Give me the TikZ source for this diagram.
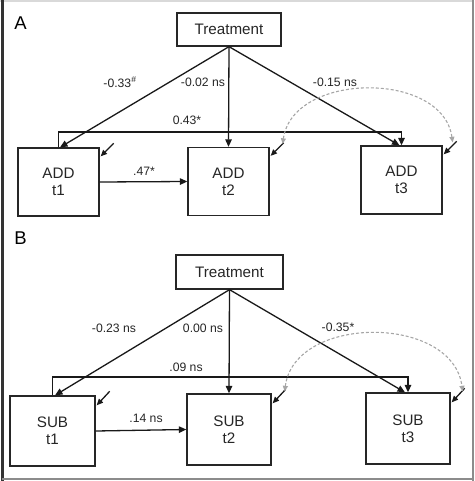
\documentclass[tikz,border=0pt]{standalone}
\usepackage{fontspec}
\setmainfont{Liberation Sans}
\usetikzlibrary{arrows.meta}
\begin{document}
\begin{tikzpicture}[x=1pt,y=-1pt,
  box/.style={draw=black!85, line width=1.3pt, inner sep=0pt, align=center, text=black!85,
    font=\fontsize{15.2}{17}\selectfont},
  lab/.style={font=\fontsize{12.2}{14}\selectfont, inner sep=0pt, text=black!85},
  panel/.style={font=\fontsize{18.5}{20}\selectfont, inner sep=0pt, text=black},
  arr/.style={-{Triangle[length=7.5pt,width=6.5pt]}, line width=1.3pt, draw=black!90},
  res/.style={-{Triangle[length=6.5pt,width=5.5pt]}, line width=1.3pt, draw=black!90},
  cov/.style={{Triangle[length=5.5pt,width=5pt]}-{Triangle[length=5.5pt,width=5pt]},
    draw=black!35, line width=1.1pt, dash pattern=on 3pt off 2pt}
]
\useasboundingbox (0,0) rectangle (474,481);
% frame
\draw[black!15, line width=1.5pt] (0,1) -- (474,1);
\draw[black!80, line width=2.5pt] (2.5,0) -- (2.5,481);
\draw[black!45, line width=2pt] (473,0) -- (473,481);
\draw[black!45, line width=2pt] (2,479) -- (474,479);

% ---------- Panel A ----------
\node[panel] (pA) at (20.5,23.5) {A};
\node[box, minimum width=104pt, minimum height=33pt] (trA) at (229,29.5) {Treatment};
\node[box, minimum width=81pt, minimum height=68pt] (a1) at (58.5,182) {ADD\\t1};
\node[box, minimum width=81pt, minimum height=68pt] (a2) at (228.5,181.5) {ADD\\t2};
\node[box, minimum width=81pt, minimum height=68pt] (a3) at (401.5,180) {ADD\\t3};
\coordinate (brA) at (229,132);

\draw[arr] (a1.north) |- (brA) -| (a3.north);
\draw[arr] (trA.south) -- ([xshift=1.5pt]a1.north);
\draw[arr] (trA.south) -- (a2.north);
\draw[arr] (trA.south) -- ([xshift=-2pt]a3.north);
\draw[arr] (a1.east) -- (a2.west);

\foreach \b in {a1,a2,a3}{
  \draw[res] ([shift={(14,-4)}]\b.north east) -- ([shift={(1,9)}]\b.north east);
}
\coordinate (ca2) at ([shift={(13,-3)}]a2.north east);
\coordinate (ca3) at ([shift={(10,-3)}]a3.north east);
\draw[cov] (ca2) .. controls ([shift={(10,-72)}]ca2) and ([shift={(-10,-72)}]ca3) .. (ca3);

\node[lab] (lA1) at (120,82) {-0.33\textsuperscript{\#}};
\node[lab] (lA2) at (203,82) {-0.02 ns};
\node[lab] (lA3) at (335,82) {-0.15 ns};
\node[lab] (lA4) at (187,120) {0.43*};
\node[lab] (lA5) at (144,171) {.47*};

% ---------- Panel B ----------
\node[panel] (pB) at (20.5,238.5) {B};
\node[box, minimum width=107pt, minimum height=34pt] (trB) at (229.5,272) {Treatment};
\node[box, minimum width=85pt, minimum height=70pt] (b1) at (52.5,431) {SUB\\t1};
\node[box, minimum width=84pt, minimum height=71pt] (b2) at (229,429.5) {SUB\\t2};
\node[box, minimum width=84pt, minimum height=71pt] (b3) at (408,428.5) {SUB\\t3};
\coordinate (brB) at (229,377);

\draw[arr] (b1.north) |- (brB) -| (b3.north);
\draw[arr] (trB.south) -- ([xshift=2.5pt]b1.north);
\draw[arr] (trB.south) -- (b2.north);
\draw[arr] (trB.south) -- ([xshift=-3pt]b3.north);
\draw[arr] (b1.east) -- (b2.west);

\foreach \b in {b1,b2,b3}{
  \draw[res] ([shift={(14,-4)}]\b.north east) -- ([shift={(1,10)}]\b.north east);
}
\coordinate (cb2) at ([shift={(13,-2)}]b2.north east);
\coordinate (cb3) at ([shift={(12,-1)}]b3.north east);
\draw[cov] (cb2) .. controls ([shift={(10,-77)}]cb2) and ([shift={(-10,-77)}]cb3) .. (cb3);

\node[lab] (lB1) at (114,328) {-0.23 ns};
\node[lab] (lB2) at (203,328) {0.00 ns};
\node[lab] (lB3) at (338,327) {-0.35*};
\node[lab] (lB4) at (186,367) {.09 ns};
\node[lab] (lB5) at (146,418) {.14 ns};
\end{tikzpicture}
\end{document}
